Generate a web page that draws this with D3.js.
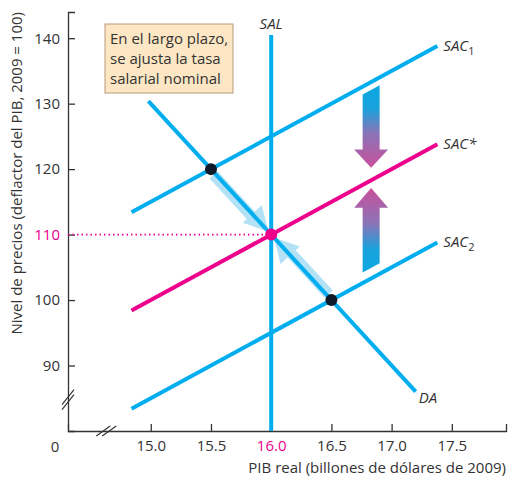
<!DOCTYPE html>
<html>
<head>
<meta charset="utf-8">
<script src="https://d3js.org/d3.v7.min.js"></script>
<style>
  body { margin: 0; background: #fff; }
  text { font-family: "Open Sans", sans-serif; fill: #333; }
</style>
</head>
<body>
<div id="chart"></div>
<script>
// tick values
var xTicks = [15.0, 15.5, 16.0, 16.5, 17.0, 17.5];
var yTicks = [90, 100, 110, 120, 130, 140];

// short-run aggregate supply curves (x = real GDP, p = price level)
var sacX = [14.84, 17.38];
var sac1P = [113.4, 138.8];
var sacStarP = [98.4, 123.8];
var sac2P = [83.4, 108.8];

// aggregate demand
var daX = [14.98, 17.2];
var daP = [130.4, 86.0];

// long-run supply
var salX = 16.0;
var salP = [80, 140.5];

// equilibrium points
var eqX = [15.5, 16.5, 16.0];
var eqP = [120, 100, 110];

// movement along DA toward long-run equilibrium
var moveFromX = [15.5, 16.5];
var moveFromP = [120, 100];
var moveToX = [16.0, 16.0];
var moveToP = [110, 110];

// wage adjustment arrows (start, head base, tip)
var wageX = 16.83;
var wageFrom = [132.1, 104.9];
var wageBase = [123.0, 114.1];
var wageTip = [120.2, 117.1];

var blue = "#00aeef";
var pink = "#ec008c";

var svgWidth = 512;
var svgHeight = 484;
var margin = { top: 12, right: 6, bottom: 53, left: 68 };
var width = svgWidth - margin.left - margin.right;
var height = svgHeight - margin.top - margin.bottom;

var svg = d3.select("#chart")
    .append("svg")
    .attr("width", svgWidth)
    .attr("height", svgHeight);

var defs = svg.append("defs");

function grad(id, flip) {
    var g = defs.append("linearGradient")
        .attr("id", id)
        .attr("x1", 0).attr("y1", flip ? 1 : 0)
        .attr("x2", 0).attr("y2", flip ? 0 : 1);
    [[0, "#0aa8e2"], [0.28, "#1aa2dc"], [0.58, "#8a74b6"], [1, "#c9509b"]]
        .forEach(function (s) {
            g.append("stop").attr("offset", s[0]).attr("stop-color", s[1]);
        });
}
grad("gradDown", false);
grad("gradUp", true);

var chart = svg.append("g")
    .attr("transform", `translate(${margin.left}, ${margin.top})`);

var x = d3.scaleLinear().domain([14.3125, 17.95]).range([0, width]);
var y = d3.scaleLinear().domain([80, 144]).range([height, 0]);

// axes
var bottomAxis = d3.axisBottom(x).tickValues(xTicks).tickSize(-7).tickPadding(9)
    .tickFormat(d3.format(".1f"));
var leftAxis = d3.axisLeft(y).tickValues(yTicks).tickSize(-7).tickPadding(8);

var xg = chart.append("g")
    .attr("transform", `translate(0, ${height})`)
    .call(bottomAxis);
var yg = chart.append("g").call(leftAxis);

[xg, yg].forEach(function (g) {
    g.select(".domain").attr("stroke", "#333").attr("stroke-width", 1.3);
    g.selectAll(".tick line").attr("stroke", "#333").attr("stroke-width", 1.3);
    g.selectAll(".tick text")
        .attr("font-size", "15px")
        .style("fill", "#333");
});
xg.selectAll(".tick text").filter(d => d === 16).style("fill", pink);
yg.selectAll(".tick text").filter(d => d === 110).style("fill", pink);

chart.append("text")
    .attr("x", -13)
    .attr("y", height + 21)
    .attr("text-anchor", "middle")
    .attr("font-size", "15px")
    .text("0");

// axis breaks
function axisBreak(cx, cy, dx, dy, sx, sy) {
    [-1, 1].forEach(function (k) {
        chart.append("line")
            .attr("x1", cx + k * sx - dx).attr("y1", cy + k * sy + dy)
            .attr("x2", cx + k * sx + dx).attr("y2", cy + k * sy - dy)
            .attr("stroke", "#333").attr("stroke-width", 1.2);
    });
}
axisBreak(x(14.63), height, 7, 5, 3, 0);
axisBreak(0, y(84.8), 6, 7.5, 0, 2.5);

// axis titles
chart.append("text")
    .attr("x", width)
    .attr("y", height + 42)
    .attr("text-anchor", "end")
    .attr("font-size", "15px")
    .text("PIB real (billones de dólares de 2009)");

chart.append("text")
    .attr("transform", "rotate(-90)")
    .attr("x", 0)
    .attr("y", -46)
    .attr("text-anchor", "end")
    .attr("font-size", "15px")
    .text("Nivel de precios (deflactor del PIB, 2009 = 100)");

// dotted guide at the equilibrium price level
chart.append("line")
    .attr("x1", 0).attr("y1", y(110))
    .attr("x2", x(16)).attr("y2", y(110))
    .attr("stroke", pink)
    .attr("stroke-width", 1.6)
    .attr("stroke-dasharray", "1.5,3");

// light blue arrows along DA
moveFromX.forEach(function (fx, i) {
    var x0 = x(fx), y0 = y(moveFromP[i]);
    var x1 = x(moveToX[i]), y1 = y(moveToP[i]);
    var len = Math.hypot(x1 - x0, y1 - y0);
    var ux = (x1 - x0) / len, uy = (y1 - y0) / len;
    var px = -uy, py = ux;
    function pt(t, o) { return [x0 + ux * t + px * o, y0 + uy * t + py * o]; }
    var tTip = len - 4, tBase = tTip - 24, o = 2, w = 5.5, h = 13;
    var pts = [pt(6, o - w), pt(tBase, o - w), pt(tBase, -h), pt(tTip, 0),
               pt(tBase, h), pt(tBase, o + w), pt(6, o + w)];
    chart.append("polygon")
        .attr("points", pts.map(p => p.join(",")).join(" "))
        .attr("fill", "#b3e2f7");
});

// wage adjustment arrows
var slope = (y(sacStarP[1]) - y(sacStarP[0])) / (x(sacX[1]) - x(sacX[0]));
wageFrom.forEach(function (f, i) {
    var cx = x(wageX), w = 8.5, h = 17;
    var y0 = y(f), yb = y(wageBase[i]), yt = y(wageTip[i]);
    var pts = [[cx - w, y0 - slope * w], [cx + w, y0 + slope * w],
               [cx + w, yb], [cx + h, yb], [cx, yt], [cx - h, yb], [cx - w, yb]];
    chart.append("polygon")
        .attr("points", pts.map(p => p.join(",")).join(" "))
        .attr("fill", i === 0 ? "url(#gradDown)" : "url(#gradUp)");
});

// curves
var line = d3.line().x(d => x(d[0])).y(d => y(d[1]));

function curve(xs, ps, color) {
    chart.append("path")
        .datum(xs.map((v, i) => [v, ps[i]]))
        .attr("d", line)
        .attr("fill", "none")
        .attr("stroke", color)
        .attr("stroke-width", 4);
}
curve(sacX, sac1P, blue);
curve(sacX, sac2P, blue);
curve(daX, daP, blue);
curve([salX, salX], salP, blue);
curve(sacX, sacStarP, pink);

// equilibrium dots
chart.selectAll("circle")
    .data(eqX)
    .enter()
    .append("circle")
    .attr("cx", d => x(d))
    .attr("cy", (d, i) => y(eqP[i]))
    .attr("r", 6)
    .attr("fill", (d, i) => i === 2 ? pink : "#0d1b2a");

// curve labels
function label(lx, ly, main, sub) {
    var t = chart.append("text")
        .attr("x", lx)
        .attr("y", ly)
        .attr("font-size", "15px")
        .style("font-style", "italic")
        .text(main);
    if (sub) {
        t.append("tspan")
            .attr("dy", 4)
            .attr("font-size", "11px")
            .style("font-style", "normal")
            .text(sub);
    }
}
label(x(sacX[1]) + 6, y(sac1P[1]) + 5, "SAC", "1");
label(x(sacX[1]) + 6, y(sacStarP[1]) + 5, "SAC*");
label(x(sacX[1]) + 6, y(sac2P[1]) + 5, "SAC", "2");
label(x(daX[1]) + 3, y(daP[1]) + 11, "DA");
chart.append("text")
    .attr("x", x(salX))
    .attr("y", y(salP[1]) - 6)
    .attr("text-anchor", "middle")
    .attr("font-size", "15px")
    .style("font-style", "italic")
    .text("SAL");

// note box
var note = ["En el largo plazo,", "se ajusta la tasa", "salarial nominal"];
chart.append("rect")
    .attr("x", 37).attr("y", 12)
    .attr("width", 128).attr("height", 69)
    .attr("fill", "#fce6c3")
    .attr("stroke", "#b89a78")
    .attr("stroke-width", 1);
chart.append("g")
    .selectAll("text")
    .data(note)
    .enter()
    .append("text")
    .attr("x", 42)
    .attr("y", (d, i) => 32 + i * 20)
    .attr("font-size", "15px")
    .text(d => d);
</script>
</body>
</html>
